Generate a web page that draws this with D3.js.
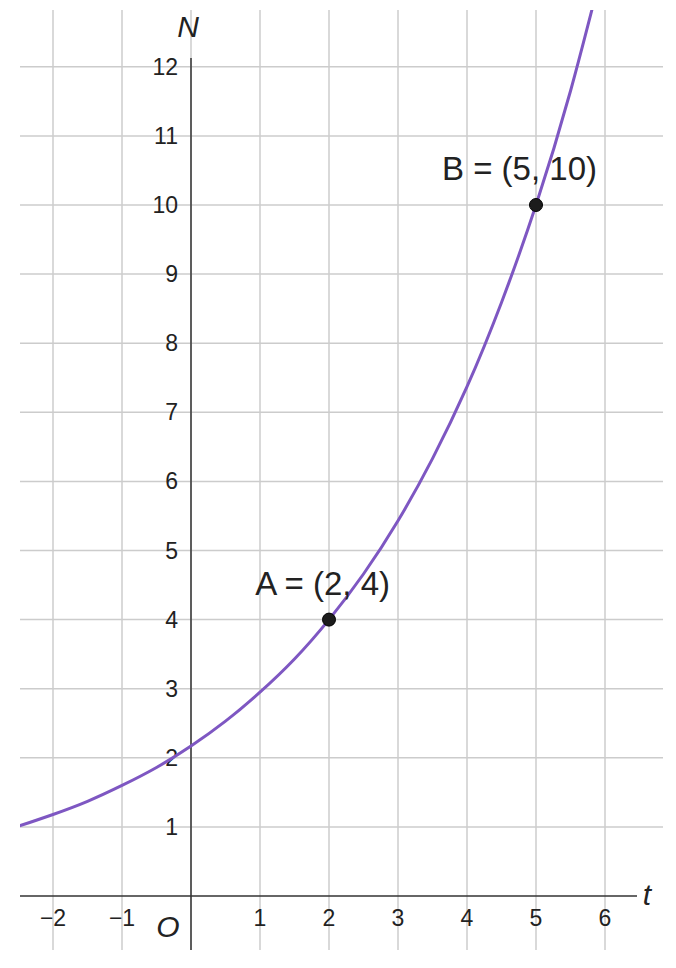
<!DOCTYPE html>
<html>
<head>
<meta charset="utf-8">
<script src="https://cdn.jsdelivr.net/npm/d3@7"></script>
<style>
  body { margin: 0; background: #fff; }
  text { font-family: "Liberation Sans", Arial, sans-serif; fill: #222; }
</style>
</head>
<body>
<div id="chart"></div>
<script>
// curve values
const tValues = [-2.5, -2, -1.5, -1, -0.5, 0, 0.5, 1, 1.5, 2, 2.5, 3, 3.5, 4, 4.5, 5, 5.5, 6];
const nValues = [1.01, 1.18, 1.37, 1.60, 1.86, 2.17, 2.53, 2.95, 3.43, 4.00, 4.66, 5.43, 6.33, 7.37, 8.59, 10.0, 11.65, 13.57];

const xTicks = [-2, -1, 1, 2, 3, 4, 5, 6];
const yTicks = [1, 2, 3, 4, 5, 6, 7, 8, 9, 10, 11, 12];
const xGrid = [-2, -1, 0, 1, 2, 3, 4, 5, 6];
const yGrid = [1, 2, 3, 4, 5, 6, 7, 8, 9, 10, 11, 12];

const pointNames = ["A", "B"];
const pointT = [2, 5];
const pointN = [4, 10];

const width = 676, height = 968;

const svg = d3.select("#chart")
    .append("svg")
    .attr("width", width)
    .attr("height", height);

// scales: 69 px per unit, origin at (191, 896)
const x = d3.scaleLinear().domain([0, 5]).range([191, 536]);
const y = d3.scaleLinear().domain([0, 10]).range([896, 205]);

const gridLeft = 20, gridRight = 663, gridTop = 10, gridBottom = 950;

// grid
svg.append("g")
    .selectAll("line")
    .data(xGrid)
    .enter().append("line")
    .attr("x1", d => x(d)).attr("x2", d => x(d))
    .attr("y1", gridTop).attr("y2", gridBottom)
    .attr("stroke", "#cccccc")
    .attr("stroke-width", 1.5);

svg.append("g")
    .selectAll("line")
    .data(yGrid)
    .enter().append("line")
    .attr("x1", gridLeft).attr("x2", gridRight)
    .attr("y1", d => y(d)).attr("y2", d => y(d))
    .attr("stroke", "#cccccc")
    .attr("stroke-width", 1.5);

// axes
svg.append("line")
    .attr("x1", gridLeft).attr("x2", 637)
    .attr("y1", y(0)).attr("y2", y(0))
    .attr("stroke", "#333").attr("stroke-width", 1.5);

svg.append("line")
    .attr("x1", x(0)).attr("x2", x(0))
    .attr("y1", 58).attr("y2", gridBottom)
    .attr("stroke", "#333").attr("stroke-width", 1.5);

// tick labels
svg.append("g")
    .selectAll("text")
    .data(xTicks)
    .enter().append("text")
    .attr("x", d => x(d))
    .attr("y", 926)
    .attr("text-anchor", "middle")
    .attr("font-size", 23)
    .text(d => d < 0 ? "\u2212" + Math.abs(d) : d);

svg.append("g")
    .selectAll("text")
    .data(yTicks)
    .enter().append("text")
    .attr("x", 178)
    .attr("y", d => y(d) + 8)
    .attr("text-anchor", "end")
    .attr("font-size", 23)
    .text(d => d);

// axis names
svg.append("text").attr("x", 188).attr("y", 37)
    .attr("text-anchor", "middle").attr("font-size", 30)
    .attr("font-style", "italic").text("N");
svg.append("text").attr("x", 647).attr("y", 905)
    .attr("text-anchor", "middle").attr("font-size", 30)
    .attr("font-style", "italic").text("t");
svg.append("text").attr("x", 168).attr("y", 937)
    .attr("text-anchor", "middle").attr("font-size", 30)
    .attr("font-style", "italic").text("O");

// curve
svg.append("clipPath").attr("id", "clip")
    .append("rect")
    .attr("x", gridLeft).attr("y", gridTop)
    .attr("width", gridRight - gridLeft).attr("height", gridBottom - gridTop);

const line = d3.line()
    .x((d, i) => x(tValues[i]))
    .y(d => y(d))
    .curve(d3.curveNatural);

svg.append("path")
    .datum(nValues)
    .attr("clip-path", "url(#clip)")
    .attr("fill", "none")
    .attr("stroke", "#7e57c2")
    .attr("stroke-width", 3)
    .attr("d", line);

// points and labels
svg.append("g")
    .selectAll("circle")
    .data(pointNames)
    .enter().append("circle")
    .attr("cx", (d, i) => x(pointT[i]))
    .attr("cy", (d, i) => y(pointN[i]))
    .attr("r", 6.5)
    .attr("fill", "#1c1c1c")
    .attr("stroke", "#000")
    .attr("stroke-width", 1);

svg.append("g")
    .selectAll("text")
    .data(pointNames)
    .enter().append("text")
    .attr("x", (d, i) => x(pointT[i]) + 61)
    .attr("y", (d, i) => y(pointN[i]) - 25)
    .attr("text-anchor", "end")
    .attr("font-size", 33)
    .text((d, i) => d + " = (" + pointT[i] + ", " + pointN[i] + ")");
</script>
</body>
</html>
